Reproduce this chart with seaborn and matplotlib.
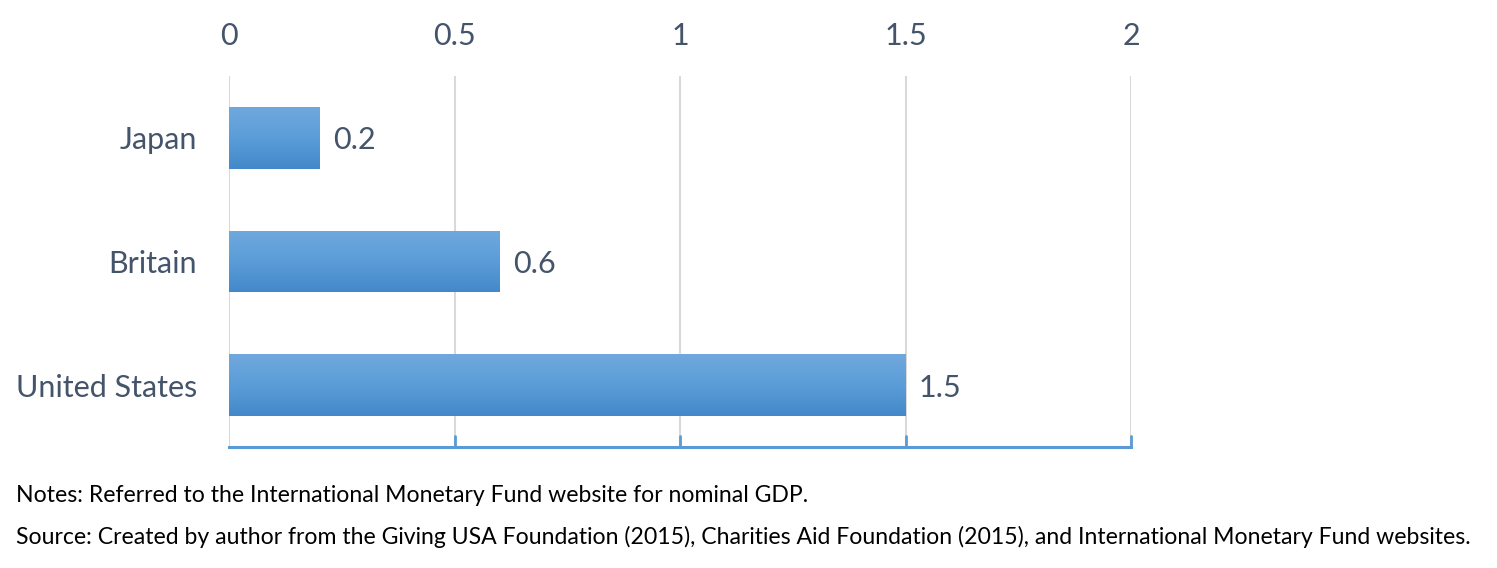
import numpy as np
import pandas as pd
import matplotlib
matplotlib.use("Agg")
import matplotlib.pyplot as plt
import seaborn as sns
from matplotlib.colors import LinearSegmentedColormap

countries = ["Japan", "Britain", "United States"]
values = [0.2, 0.6, 1.5]
xticks = [0, 0.5, 1, 1.5, 2]
xtick_labels = ["0", "0.5", "1", "1.5", "2"]
note_text = "Notes: Referred to the International Monetary Fund website for nominal GDP."
source_text = ("Source: Created by author from the Giving USA Foundation (2015), Charities Aid Foundation (2015), "
               "and International Monetary Fund websites.")

sns.set_style("white")
plt.rcParams['font.family'] = ['Lato', 'DejaVu Sans']

df = pd.DataFrame({"country": countries, "value": values})

fig = plt.figure(figsize=(14.97, 5.68), dpi=100)
ax = fig.add_axes([229/1497, 1-447/568, (1131-229)/1497, (447-76)/568])

sns.barplot(data=df, x="value", y="country", orient="h", width=0.5,
            color="#5B9BD5", ax=ax, zorder=3)

cmap = LinearSegmentedColormap.from_list("g", ["#70A8DE", "#5B9DD8", "#4388CA"])
grad = np.linspace(0, 1, 256).reshape(-1, 1)
for p in ax.patches:
    x0, y0 = p.get_x(), p.get_y()
    w, h = p.get_width(), p.get_height()
    im = ax.imshow(grad, cmap=cmap, aspect="auto", extent=[x0, x0 + w, y0 + h, y0],
                   zorder=4, interpolation="bicubic")
    im.set_clip_path(p)
    p.set_edgecolor("none")

ax.set_xlim(0, 2)
ax.set_ylim(2.5, -0.5)
ax.set_xticks(xticks)
ax.set_xticklabels(xtick_labels)
ax.xaxis.tick_top()
ax.tick_params(axis="x", which="both", length=0, pad=19, labelsize=22, labelcolor="#44546A")
ax.tick_params(axis="y", length=0, pad=23, labelsize=22, labelcolor="#44546A")
ax.set_xlabel("")
ax.set_ylabel("")
ax.grid(axis="x", color="#D9D9D9", linewidth=1.5, zorder=0)
ax.set_axisbelow(True)
for s in ["top", "left", "right"]:
    ax.spines[s].set_visible(False)
ax.spines["bottom"].set_color("#5B9BD5")
ax.spines["bottom"].set_linewidth(2.2)
ax.spines["bottom"].set_zorder(5)

# small upward ticks on bottom axis line (none at zero)
for xt in xticks[1:]:
    ax.plot([xt, xt], [2.5, 2.5 - 0.085], color="#5B9BD5", linewidth=2, zorder=5, clip_on=False)

for i, v in enumerate(values):
    ax.text(v + 0.03, i + 0.02, f"{v:g}", va="center", ha="left", fontsize=22, color="#44546A", zorder=6)

fig.text(16/1497, 1-495/568, note_text, fontsize=16.6, color="black", va="center", ha="left")
fig.text(16/1497, 1-537/568, source_text, fontsize=16.6, color="black", va="center", ha="left")

fig.savefig("out.png", dpi=100)
